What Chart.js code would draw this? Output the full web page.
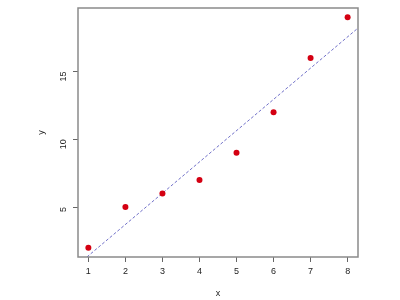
<!DOCTYPE html>
<html><head><meta charset="utf-8">
<script src="https://cdn.jsdelivr.net/npm/chart.js@4"></script>
<style>html,body{margin:0;padding:0;background:#fff}#wrap{width:400px;height:300px}</style>
</head><body><div id="wrap"><canvas id="c" width="400" height="300"></canvas></div>
<script>
const xValues = [1, 2, 3, 4, 5, 6, 7, 8];
const yValues = [2, 5, 6, 7, 9, 12, 16, 19];
const fitX = [0.96, 8.28];
const fitY = [1.32, 18.2];
const xTicks = [1, 2, 3, 4, 5, 6, 7, 8];
const yTicks = [5, 10, 15];

const font = {family: "'Liberation Sans', Arial, sans-serif", size: 9};

const boxPlugin = {
  id: 'box',
  afterDraw(chart) {
    const a = chart.chartArea, ctx = chart.ctx;
    ctx.save();
    ctx.strokeStyle = '#8a8a8a';
    ctx.lineWidth = 1.5;
    ctx.strokeRect(a.left, a.top, a.right - a.left, a.bottom - a.top);
    ctx.restore();
  }
};

new Chart(document.getElementById('c'), {
  type: 'scatter',
  data: {
    datasets: [
      {
        data: xValues.map((x, i) => ({x, y: yValues[i]})),
        backgroundColor: '#d40012', borderColor: '#d40012',
        pointRadius: 3, pointHoverRadius: 3, borderWidth: 0
      },
      {
        type: 'line',
        data: fitX.map((x, i) => ({x, y: fitY[i]})),
        borderColor: '#7070c8', borderWidth: 1, borderDash: [3, 2],
        pointRadius: 0, fill: false
      }
    ]
  },
  plugins: [boxPlugin],
  options: {
    responsive: false, animation: false,
    layout: {padding: {top: 8, right: 42, left: 36, bottom: 0}},
    plugins: {legend: {display: false}, tooltip: {enabled: false}},
    scales: {
      x: {
        type: 'linear', min: 0.72, max: 8.28,
        afterBuildTicks(s) { s.ticks = xTicks.map(v => ({value: v})); },
        afterFit(s) { s.height = 43; s.paddingLeft = 0; s.paddingRight = 0; },
        grid: {drawOnChartArea: false, tickLength: 5, color: '#666', tickWidth: 1},
        border: {display: false},
        ticks: {font, color: '#222', padding: 4, maxRotation: 0, autoSkip: false},
        title: {display: true, text: 'x', font, color: '#222', padding: {top: 4, bottom: 1}}
      },
      y: {
        type: 'linear', min: 1.32, max: 19.68,
        afterBuildTicks(s) { s.ticks = yTicks.map(v => ({value: v})); },
        afterFit(s) { s.width = 42; s.paddingTop = 0; s.paddingBottom = 0; },
        grid: {drawOnChartArea: false, tickLength: 5, color: '#666', tickWidth: 1},
        border: {display: false},
        ticks: {font, color: '#222', padding: 9, minRotation: 90, maxRotation: 90, autoSkip: false},
        title: {display: true, text: 'y', font, color: '#222', padding: {top: 0, bottom: 0}}
      }
    }
  }
});
</script></body></html>
